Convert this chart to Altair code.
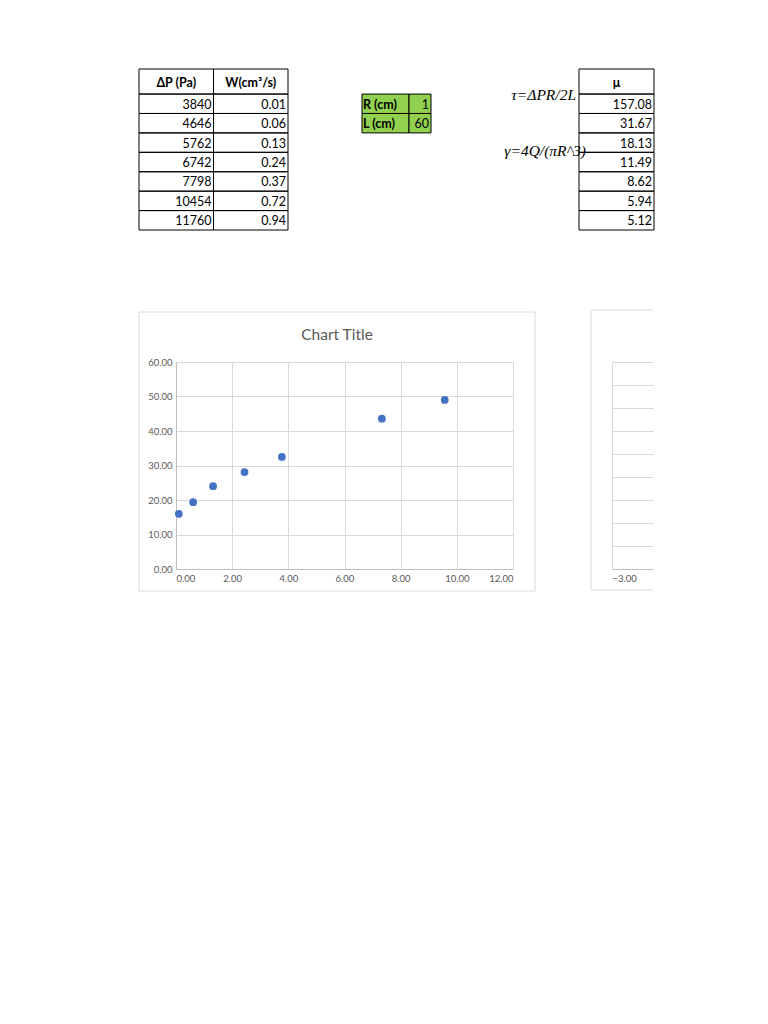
import pandas as pd
import altair as alt

# spreadsheet values
dp_pa = [3840, 4646, 5762, 6742, 7798, 10454, 11760]
w_flow = [0.01, 0.06, 0.13, 0.24, 0.37, 0.72, 0.94]
mu_vals = [157.08, 31.67, 18.13, 11.49, 8.62, 5.94, 5.12]
param_names = ["R (cm)", "L (cm)"]
param_vals = [1, 60]
formulas = ["τ=ΔPR/2L", "γ=4Q/(πR^3)"]
formula_rows = [1, 4]

# scatter: shear rate vs shear stress
gamma = [0.10, 0.61, 1.32, 2.44, 3.77, 7.33, 9.57]
tau = [16.00, 19.36, 24.01, 28.09, 32.49, 43.56, 49.00]
chart_title = "Chart Title"

x_ticks = [0, 2, 4, 6, 8, 10, 12]
y_ticks = [0, 10, 20, 30, 40, 50, 60]
ghost_x_ticks = [-3]
ghost_y_ticks = [0, 1, 2, 3, 4, 5, 6, 7, 8, 9]

FONT = "Lato"
GRID = "#d9d9d9"
LABEL = "#595959"
HEAD = 1.29  # header row is a bit taller than the data rows
TOP_H = 161
body_rows = [1, 2, 3, 4, 5, 6, 7]

yscale = alt.Scale(domain=[1 - HEAD, 8], reverse=True, nice=False, zero=False)


def spacer(w, h):
    return alt.Chart(pd.DataFrame({"s": [0]})).mark_point(opacity=0).properties(width=w, height=h)


def table(df, cols, width, align="right", bold=False, fill="white", fill_op=0.0):
    xs = alt.Scale(domain=cols, paddingInner=0, paddingOuter=0)
    base = alt.Chart(df).transform_calculate(
        y0=f"datum.row == 0 ? {1 - HEAD} : datum.row",
        y1="datum.row + 1",
    ).transform_calculate(ym="(datum.y0 + datum.y1) / 2")
    box = base.mark_rect(fill=fill, fillOpacity=fill_op, stroke="black", strokeWidth=1).encode(
        x=alt.X("col:N", scale=xs, axis=None),
        y=alt.Y("y0:Q", scale=yscale, axis=None),
        y2="y1:Q",
    )
    pos = {"right": 1, "center": 0.5, "left": 0}[align]
    off = {"right": -2, "center": 0, "left": 1}[align]
    txt = base.mark_text(
        align=align, baseline="middle", dx=off, dy=1, font=FONT, fontSize=12.5,
        fontWeight="bold" if bold else "normal", color="black",
    ).encode(
        x=alt.X("col:N", scale=xs, axis=None, bandPosition=pos),
        y=alt.Y("ym:Q", scale=yscale, axis=None),
        text="txt:N",
    )
    return alt.layer(box, txt).properties(width=width, height=TOP_H)


# Table 1: pressure drop and flow (header + body)
t1 = pd.DataFrame({
    "row": [0, 0] + body_rows * 2,
    "col": ["a", "b"] + ["a"] * 7 + ["b"] * 7,
    "txt": ["ΔP (Pa)", "W(cm³/s)"] + [str(v) for v in dp_pa] + [f"{v:.2f}" for v in w_flow],
})
table1 = alt.layer(
    table(t1[t1.row == 0], ["a", "b"], 149, align="center", bold=True),
    table(t1[t1.row > 0], ["a", "b"], 149),
)

# green parameter cells
green_lab = table(
    pd.DataFrame({"row": [1, 2], "col": ["p", "p"], "txt": param_names}),
    ["p"], 47, align="left", bold=True, fill="#92D050", fill_op=1,
)
green_val = table(
    pd.DataFrame({"row": [1, 2], "col": ["v", "v"], "txt": [str(v) for v in param_vals]}),
    ["v"], 22, fill="#92D050", fill_op=1,
)

# floating equations
fdf = pd.DataFrame({"row": formula_rows, "txt": formulas})
f_layers = []
for i, right in enumerate([145, 155]):
    f_layers.append(
        alt.Chart(fdf.iloc[[i]]).mark_text(
            align="right", baseline="middle", font="Liberation Serif",
            fontStyle="italic", fontSize=15.5, color="black", dy=1 if i == 0 else -1,
        ).encode(
            x=alt.value(right),
            y=alt.Y("row:Q", scale=yscale, axis=None),
            text="txt:N",
        )
    )
formula_chart = alt.layer(*f_layers).properties(width=148, height=TOP_H)

# mu column
mu_df = pd.DataFrame({
    "row": [0] + body_rows,
    "col": ["m"] * 8,
    "txt": ["μ"] + [f"{v:.2f}" for v in mu_vals],
})
mu_table = alt.layer(
    table(mu_df[mu_df.row == 0], ["m"], 75, align="center", bold=True),
    table(mu_df[mu_df.row > 0], ["m"], 75),
)

# Scatter chart
axis_style = dict(
    format=".2f", title=None, grid=True, gridColor=GRID, domainColor="#bfbfbf",
    ticks=False, labelColor=LABEL, labelFont=FONT, labelFontSize=9.5, labelPadding=4,
)
pts = alt.Chart(pd.DataFrame({"gamma": gamma, "tau": tau})).mark_circle(
    size=60, color="#4472C4", opacity=1
).encode(
    x=alt.X("gamma:Q", scale=alt.Scale(domain=[0, 12], nice=False), axis=alt.Axis(values=x_ticks, **axis_style)),
    y=alt.Y("tau:Q", scale=alt.Scale(domain=[0, 60], nice=False), axis=alt.Axis(values=y_ticks, **axis_style)),
)
one = pd.DataFrame({"k": [0]})
frame1 = alt.Chart(one).mark_rect(fillOpacity=0, stroke=GRID, strokeWidth=1).encode(
    x=alt.value(-37), x2=alt.value(359), y=alt.value(-50), y2=alt.value(229)
)
title1 = alt.Chart(pd.DataFrame({"t": [chart_title]})).mark_text(
    font=FONT, fontSize=15.5, color=LABEL, baseline="middle"
).encode(x=alt.value(161), y=alt.value(-27), text="t:N")
chart1 = alt.layer(frame1, pts, title1).properties(width=337, height=207)

# second (cropped) chart
ghost = alt.Chart(pd.DataFrame({"gx": [], "gy": []})).mark_point(opacity=0).encode(
    x=alt.X("gx:Q", scale=alt.Scale(domain=[-3, -2], nice=False),
            axis=alt.Axis(values=ghost_x_ticks, **axis_style)),
    y=alt.Y("gy:Q", scale=alt.Scale(domain=[0, 9], nice=False),
            axis=alt.Axis(values=ghost_y_ticks, title=None, labels=False, ticks=False,
                          domain=False, grid=True, gridColor=GRID)),
)
edge = alt.Chart(one).mark_rule(color=GRID, strokeWidth=1)
chart2 = alt.layer(
    ghost,
    edge.encode(x=alt.value(-21), y=alt.value(-52), y2=alt.value(228)),
    edge.encode(x=alt.value(-21), x2=alt.value(41), y=alt.value(-52)),
    edge.encode(x=alt.value(-21), x2=alt.value(41), y=alt.value(228)),
).properties(width=41, height=207)

top = alt.hconcat(
    table1, spacer(74, TOP_H), green_lab, green_val, formula_chart, mu_table,
    spacing=0, bounds="flush",
)
bottom = alt.hconcat(
    spacer(37, 207), chart1, spacer(99, 207), chart2,
    spacing=0, bounds="flush",
)

chart = alt.vconcat(top, bottom, spacing=78).properties(
    padding={"left": 130, "top": 60, "right": 5, "bottom": 5}
).configure_view(strokeWidth=0)

chart.save("out.html", embed_options={"renderer": "svg", "actions": False})
